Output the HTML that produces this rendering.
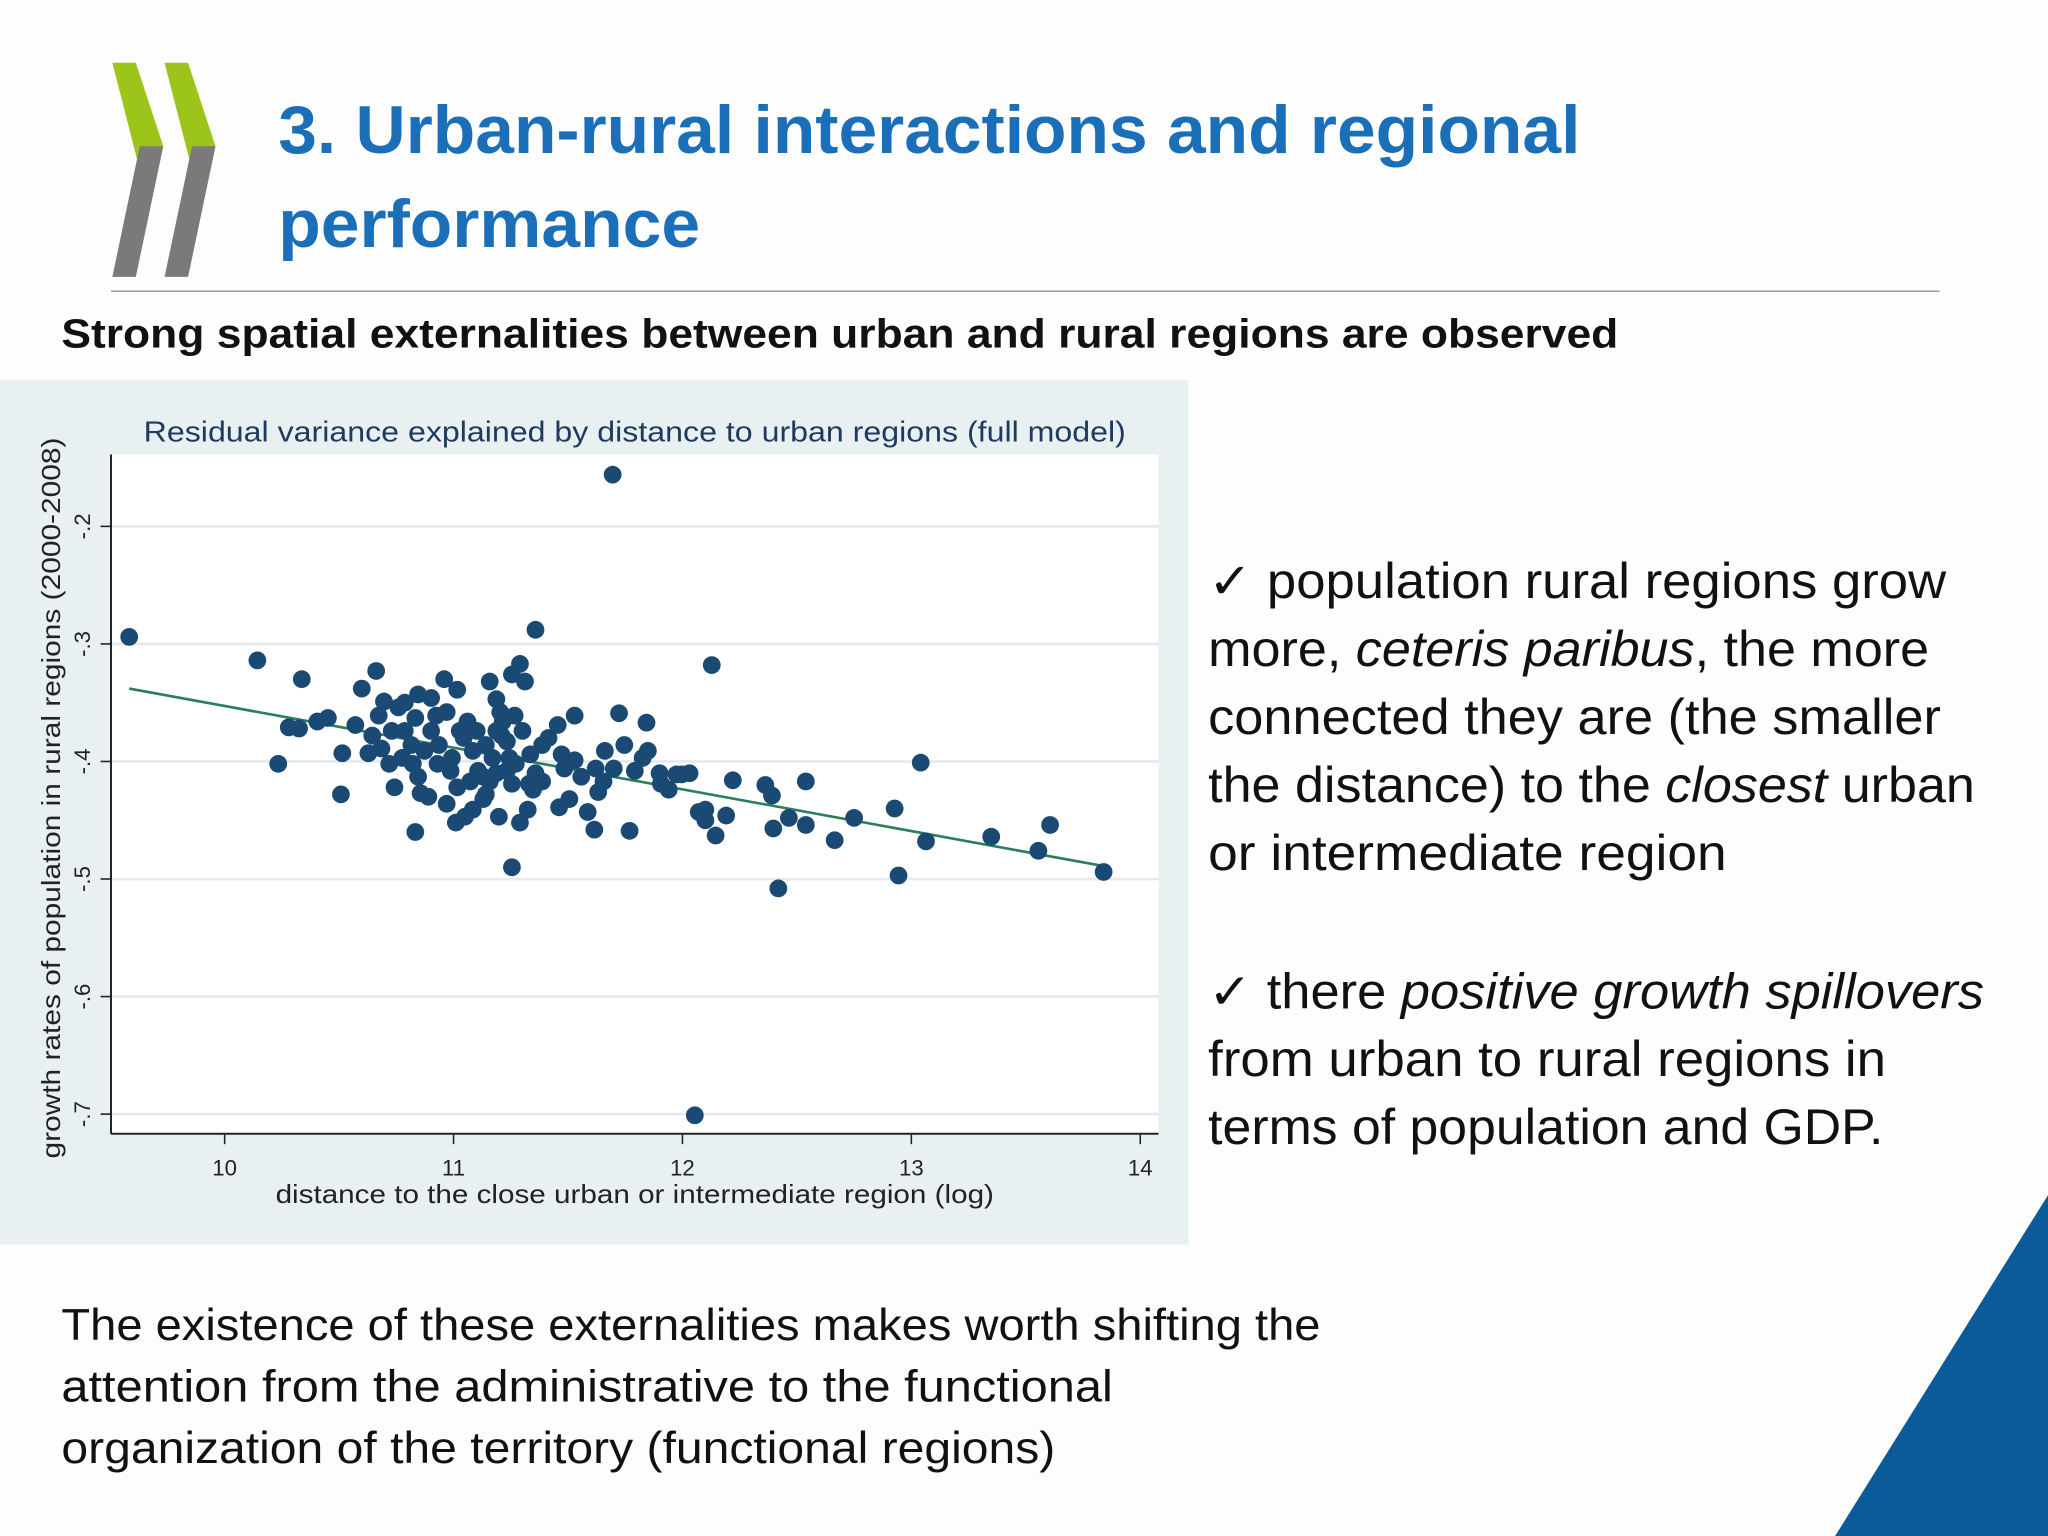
<!DOCTYPE html>
<html><head><meta charset="utf-8"><style>
html,body{margin:0;padding:0;background:#fdfdfd;}
svg{display:block;}
text{font-family:"Liberation Sans",sans-serif;}
</style></head><body>
<svg id="s" width="2048" height="1536" viewBox="0 0 1568 1176" xmlns="http://www.w3.org/2000/svg">
<rect width="1568" height="1176" fill="#fdfdfd"/>
<g>
<polygon points="86,48 104,48 125,112 107,130 " fill="#9dc41a"/>
<polygon points="107,112 125,112 104,212 86,212" fill="#7a7a7a"/>
<polygon points="126,48 144,48 165,112 147,130" fill="#9dc41a"/>
<polygon points="147,112 165,112 144,212 126,212" fill="#7a7a7a"/>
</g>
<text x="213" y="117" font-size="52" font-weight="bold" fill="#1a6fb8" textLength="997" lengthAdjust="spacingAndGlyphs">3. Urban-rural interactions and regional</text>
<text x="213" y="189" font-size="52" font-weight="bold" fill="#1a6fb8" textLength="323" lengthAdjust="spacingAndGlyphs">performance</text>
<line x1="85" y1="223" x2="1485" y2="223" stroke="#9a9a9a" stroke-width="1.2"/>
<text x="47" y="266" font-size="31" font-weight="bold" fill="#111" textLength="1192" lengthAdjust="spacingAndGlyphs">Strong spatial externalities between urban and rural regions are observed</text>

<g id="chart">
<rect x="0" y="291" width="910" height="662" fill="#e9f0f2"/>
<rect x="85" y="348" width="802" height="520" fill="#ffffff"/>
<text x="110" y="338" font-size="22" fill="#1e3a5f" textLength="752" lengthAdjust="spacingAndGlyphs">Residual variance explained by distance to urban regions (full model)</text>
<g id="grid"></g>
<g id="axes"></g>
<g id="fit"></g>
<g id="pts"></g>
<text x="211" y="921" font-size="20" fill="#222" textLength="550" lengthAdjust="spacingAndGlyphs">distance to the close urban or intermediate region (log)</text>
<text transform="translate(46,887) rotate(-90)" font-size="20" fill="#222" textLength="552" lengthAdjust="spacingAndGlyphs">growth rates of population in rural regions (2000-2008)</text>
</g>

<g font-size="38" fill="#111">
<text x="925" y="458" textLength="565" lengthAdjust="spacingAndGlyphs">✓ population rural regions grow</text>
<text x="925" y="510" textLength="552" lengthAdjust="spacingAndGlyphs">more, <tspan font-style="italic">ceteris paribus</tspan>, the more</text>
<text x="925" y="562" textLength="561" lengthAdjust="spacingAndGlyphs">connected they are (the smaller</text>
<text x="925" y="614" textLength="587" lengthAdjust="spacingAndGlyphs">the distance) to the <tspan font-style="italic">closest</tspan> urban</text>
<text x="925" y="666" textLength="397" lengthAdjust="spacingAndGlyphs">or intermediate region</text>
<text x="925" y="772" textLength="594" lengthAdjust="spacingAndGlyphs">✓ there <tspan font-style="italic">positive growth spillovers</tspan></text>
<text x="925" y="824" textLength="519" lengthAdjust="spacingAndGlyphs">from urban to rural regions in</text>
<text x="925" y="876" textLength="517" lengthAdjust="spacingAndGlyphs">terms of population and GDP.</text>
</g>
<g font-size="34" fill="#111">
<text x="47" y="1026" textLength="964" lengthAdjust="spacingAndGlyphs">The existence of these externalities makes worth shifting the</text>
<text x="47" y="1073" textLength="805" lengthAdjust="spacingAndGlyphs">attention from the administrative to the functional</text>
<text x="47" y="1120" textLength="761" lengthAdjust="spacingAndGlyphs">organization of the territory (functional regions)</text>
</g>
<polygon points="1568,915 1568,1176 1405,1176" fill="#0b5a9a"/>
</svg>
<script>
const xTicks=[10,11,12,13,14];
const yTicks=[-0.2,-0.3,-0.4,-0.5,-0.6,-0.7];
const yTickLabels=["-.2","-.3","-.4","-.5","-.6","-.7"];
const xVals=[9.583,11.695,10.143,10.337,11.358,12.128,12.054,10.234,10.280,10.325,10.405,10.451,10.514,10.508,10.599,10.662,10.571,10.628,10.673,10.696,10.730,10.742,10.833,10.822,10.856,10.759,10.787,10.833,10.845,10.902,10.924,10.959,11.016,10.936,10.993,11.027,11.061,11.084,10.970,11.010,11.050,11.084,11.141,11.107,11.158,11.187,11.204,11.233,11.255,11.290,11.312,11.267,11.210,11.170,11.158,11.255,11.290,11.324,11.347,11.255,11.301,11.335,11.358,11.387,11.415,11.455,11.484,11.529,11.506,11.461,11.586,11.615,11.632,11.655,11.700,11.723,11.746,11.769,11.792,11.826,11.843,11.849,11.906,11.940,11.974,11.997,12.031,12.071,12.100,12.145,12.191,12.220,12.362,12.391,12.397,12.419,12.465,12.539,12.539,12.665,12.750,12.927,12.944,13.041,13.064,13.349,13.555,13.606,13.840,11.016,11.073,11.130,11.187,11.233,11.272,10.987,10.930,10.873,10.816,10.776,10.719,10.787,10.902,10.970,11.044,11.101,11.141,11.187,11.215,11.244,11.330,11.387,11.472,11.529,11.558,10.685,10.645,10.845,10.890,11.130,11.198,11.621,11.661,11.900,12.100];
const yVals=[-0.294,-0.156,-0.314,-0.330,-0.288,-0.318,-0.701,-0.402,-0.371,-0.372,-0.366,-0.363,-0.393,-0.428,-0.338,-0.323,-0.369,-0.393,-0.361,-0.349,-0.374,-0.422,-0.460,-0.402,-0.427,-0.354,-0.350,-0.363,-0.343,-0.346,-0.361,-0.330,-0.339,-0.386,-0.397,-0.374,-0.366,-0.391,-0.436,-0.452,-0.447,-0.441,-0.428,-0.408,-0.332,-0.347,-0.358,-0.383,-0.326,-0.317,-0.332,-0.361,-0.378,-0.397,-0.417,-0.419,-0.452,-0.441,-0.424,-0.490,-0.374,-0.394,-0.410,-0.386,-0.380,-0.369,-0.406,-0.361,-0.432,-0.439,-0.443,-0.458,-0.426,-0.417,-0.406,-0.359,-0.386,-0.459,-0.408,-0.397,-0.367,-0.391,-0.419,-0.424,-0.411,-0.411,-0.410,-0.443,-0.450,-0.463,-0.446,-0.416,-0.420,-0.429,-0.457,-0.508,-0.448,-0.417,-0.454,-0.467,-0.448,-0.440,-0.497,-0.401,-0.468,-0.464,-0.476,-0.454,-0.494,-0.422,-0.417,-0.413,-0.410,-0.408,-0.402,-0.408,-0.402,-0.391,-0.386,-0.397,-0.402,-0.374,-0.374,-0.358,-0.380,-0.374,-0.386,-0.374,-0.366,-0.397,-0.419,-0.417,-0.394,-0.399,-0.413,-0.389,-0.378,-0.413,-0.430,-0.432,-0.447,-0.406,-0.391,-0.410,-0.441];
const fitX=[9.583,13.840];
const fitY=[-0.338,-0.489];
const NS="http://www.w3.org/2000/svg";
function sx(v){return 172+(v-10)*175.25;}
function sy(v){return 403+(-0.2-v)*900;}
function mk(tag,attrs,parent){const e=document.createElementNS(NS,tag);for(const k in attrs)e.setAttribute(k,attrs[k]);parent.appendChild(e);return e;}
const grid=document.getElementById('grid'),axes=document.getElementById('axes'),fit=document.getElementById('fit'),pts=document.getElementById('pts');
yTicks.forEach((t,i)=>{
  const g=mk('line',{x1:85,x2:887,y1:sy(t),y2:sy(t),stroke:'#e6eaee','stroke-width':2},grid);
  
  
  const tk=mk('line',{x1:77,x2:85,y1:sy(t),y2:sy(t),stroke:'#222','stroke-width':1.2},axes);
  
  
  const lb=mk('text',{transform:'translate(69,'+sy(t)+') rotate(-90)','text-anchor':'middle','font-size':17,fill:'#222'},axes);
  lb.textContent=yTickLabels[i];
  
  
});
xTicks.forEach(t=>{
  const tk=mk('line',{x1:sx(t),x2:sx(t),y1:868,y2:876,stroke:'#222','stroke-width':1.2},axes);
  
  
  const lb=mk('text',{x:sx(t),y:900,'text-anchor':'middle','font-size':17,fill:'#222'},axes);
  lb.textContent=String(t);
  
  
});
const ya=mk('line',{x1:85,x2:85,y1:348,y2:868,stroke:'#222','stroke-width':1.5},axes);


const xa=mk('line',{x1:85,x2:887,y1:868,y2:868,stroke:'#222','stroke-width':1.5},axes);


const fl=mk('line',{x1:sx(fitX[0]),y1:sy(fitY[0]),x2:sx(fitX[1]),y2:sy(fitY[1]),stroke:'#2e7d5e','stroke-width':2},fit);


xVals.forEach((v,i)=>{
  const c=mk('circle',{cx:sx(v),cy:sy(yVals[i]),r:6.8,fill:'#1a4a73'},pts);
  
  
});
</script>
</body></html>
